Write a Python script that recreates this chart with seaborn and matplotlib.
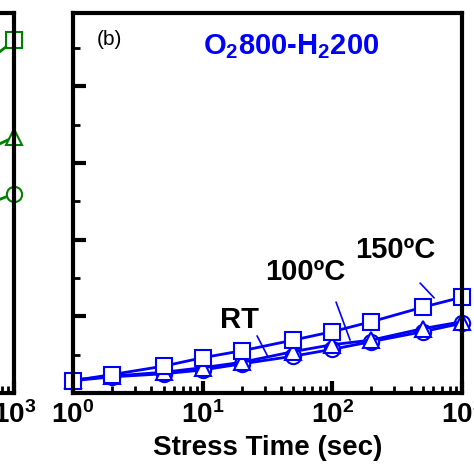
import matplotlib
matplotlib.use("Agg")
import matplotlib.pyplot as plt
import seaborn as sns
import pandas as pd

sns.set_style("ticks")
plt.rcParams['font.family'] = ['Liberation Sans', 'DejaVu Sans']
plt.rcParams['font.weight'] = 'bold'
plt.rcParams['mathtext.fontset'] = 'custom'
plt.rcParams['mathtext.bf'] = 'Liberation Sans:bold'
plt.rcParams['mathtext.rm'] = 'Liberation Sans:bold'
plt.rcParams['mathtext.default'] = 'bf'
for k in ['text.color', 'axes.labelcolor', 'xtick.color', 'ytick.color', 'axes.edgecolor']:
    plt.rcParams[k] = 'black'

times = [1, 2, 5, 10, 20, 50, 100, 200, 500, 1000]
b_150 = [0.16, 0.24, 0.35, 0.46, 0.55, 0.69, 0.80, 0.93, 1.12, 1.25]
b_100 = [0.17, 0.22, 0.27, 0.33, 0.40, 0.54, 0.63, 0.69, 0.84, 0.93]
b_rt = [0.16, 0.21, 0.25, 0.30, 0.38, 0.48, 0.57, 0.67, 0.80, 0.91]
a_150 = [0.3, 0.6, 1.0, 1.5, 2.0, 2.7, 3.2, 3.7, 4.2, 4.6]
a_100 = [0.25, 0.45, 0.75, 1.1, 1.45, 1.95, 2.3, 2.7, 3.1, 3.34]
a_rt = [0.2, 0.35, 0.6, 0.85, 1.1, 1.5, 1.8, 2.1, 2.4, 2.6]

fig = plt.figure(figsize=(4.74, 4.74), dpi=100)
axa = fig.add_axes([-0.79, 0.171, 0.82, 0.802])
axb = fig.add_axes([0.154, 0.171, 0.821, 0.802])

def draw(ax, ys, color):
    for y, m in zip(ys, ['o', '^', 's']):
        df = pd.DataFrame({'t': times, 'v': y})
        sns.lineplot(data=df, x='t', y='v', ax=ax, color=color, marker=m,
                     markersize=11, markerfacecolor='white', markeredgecolor=color,
                     markeredgewidth=1.5, linewidth=2, clip_on=False, zorder=3)

draw(axa, [a_rt, a_100, a_150], 'green')
draw(axb, [b_rt, b_100, b_150], 'blue')

for ax in (axa, axb):
    ax.set_xscale('log')
    ax.set_xlim(1, 1000)
    ax.set_ylim(0, 4.96)
    ax.set_yticks([1, 2, 3, 4])
    ax.set_yticks([0.5, 1.5, 2.5, 3.5, 4.5], minor=True)
    ax.set_yticklabels([])
    ax.set_ylabel('')
    ax.set_xlabel('')
    ax.tick_params(which='major', direction='in', length=9, width=3, labelsize=20, pad=6)
    ax.tick_params(which='minor', direction='in', length=5, width=2)
    for s in ax.spines.values():
        s.set_linewidth(3)
        s.set_zorder(4)

axb.set_xlabel('Stress Time (sec)', fontsize=20, fontweight='bold')
axb.text(0.06, 0.93, '(b)', transform=axb.transAxes, fontsize=15, fontweight='normal', va='center')
axb.text(0.56, 0.91, r'O$_2$800-H$_2$200', transform=axb.transAxes,
         fontsize=21, fontweight='bold', color='blue', ha='center', va='center')

for txt, tp, p0, p1 in [('RT', (0.429, 0.192), (0.473, 0.15), (0.501, 0.095)),
                        ('100ºC', (0.596, 0.318), (0.676, 0.239), (0.712, 0.139)),
                        ('150ºC', (0.828, 0.376), (0.892, 0.289), (0.928, 0.25))]:
    axb.text(*tp, txt, transform=axb.transAxes, fontsize=21, fontweight='bold',
             ha='center', va='center')
    axb.plot([p0[0], p1[0]], [p0[1], p1[1]], transform=axb.transAxes, color='blue', lw=1.2)

fig.savefig('out.png', dpi=100)
